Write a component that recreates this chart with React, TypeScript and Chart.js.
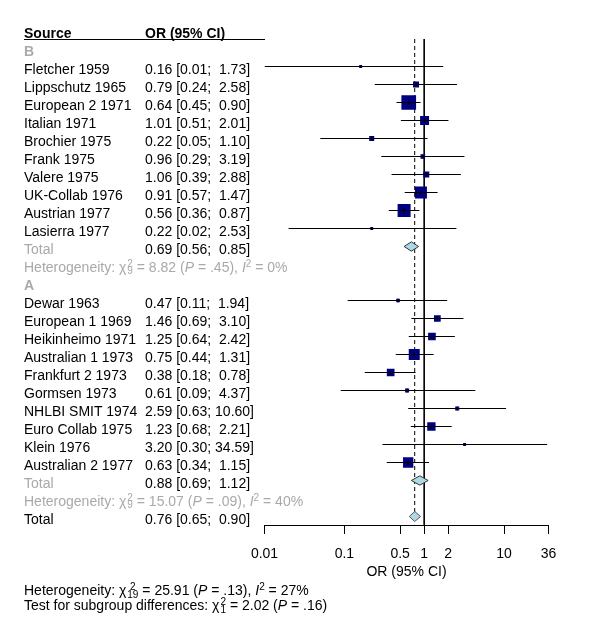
import { useEffect, useRef } from "react";
import { Chart, registerables } from "chart.js";

Chart.register(...registerables);

// subgroup B
const studiesB = [
  "Fletcher 1959",
  "Lippschutz 1965",
  "European 2 1971",
  "Italian 1971",
  "Brochier 1975",
  "Frank 1975",
  "Valere 1975",
  "UK-Collab 1976",
  "Austrian 1977",
  "Lasierra 1977"
];
const orB = [0.16, 0.79, 0.64, 1.01, 0.22, 0.96, 1.06, 0.91, 0.56, 0.22];
const loB = [0.01, 0.24, 0.45, 0.51, 0.05, 0.29, 0.39, 0.57, 0.36, 0.02];
const hiB = [1.73, 2.58, 0.9, 2.01, 1.1, 3.19, 2.88, 1.47, 0.87, 2.53];
const weightB = [0.7, 2.9, 17.1, 6.4, 2.0, 1.7, 2.9, 11.4, 13.4, 0.7];

// subgroup A
const studiesA = [
  "Dewar 1963",
  "European 1 1969",
  "Heikinheimo 1971",
  "Australian 1 1973",
  "Frankfurt 2 1973",
  "Gormsen 1973",
  "NHLBI SMIT 1974",
  "Euro Collab 1975",
  "Klein 1976",
  "Australian 2 1977"
];
const orA = [0.47, 1.46, 1.25, 0.75, 0.38, 0.61, 2.59, 1.23, 3.2, 0.63];
const loA = [0.11, 0.69, 0.64, 0.44, 0.18, 0.09, 0.63, 0.68, 0.3, 0.34];
const hiA = [1.94, 3.1, 2.42, 1.31, 0.78, 4.37, 10.6, 2.21, 34.59, 1.15];
const weightA = [1.1, 3.6, 4.7, 9.6, 4.7, 1.3, 1.3, 5.5, 0.7, 8.4];

// pooled estimates [or, lo, hi]
const totalB = [0.69, 0.56, 0.85];
const totalA = [0.88, 0.69, 1.12];
const totalAll = [0.76, 0.65, 0.9];

// heterogeneity: B, A, overall
const hetDf = ["9", "9", "19"];
const hetQ = ["8.82", "15.07", "25.91"];
const hetP = [".45", ".09", ".13"];
const hetI2 = ["0%", "40%", "27%"];
const subgroupTest = ["1", "2.02", ".16"];

const tickValues = [0.01, 0.1, 0.5, 1, 2, 10, 36];

const FONT = '"Liberation Sans", Arial, Helvetica, sans-serif';
const GREY = "#a9a9a9";
const NAVY = "#000080";
const ROW0 = 66.5;
const STEP = 18;
const PLOT_TOP = 39;
const PLOT_BOTTOM = 525;
const W = 598;
const H = 630;
const X_AXIS_H = 58;

const yMin = (PLOT_TOP - ROW0) / STEP;
const yMax = (PLOT_BOTTOM - ROW0) / STEP;

// table rows
const rowsB = studiesB.map((_, i) => i);
const rowTotalB = studiesB.length;
const rowHetB = rowTotalB + 1;
const rowLabelA = rowHetB + 1;
const rowsA = studiesA.map((_, i) => rowLabelA + 1 + i);
const rowTotalA = rowsA[rowsA.length - 1] + 1;
const rowHetA = rowTotalA + 1;
const rowTotal = rowHetA + 1;

const fmt = (v: number) => v.toFixed(2);
const ciText = (or: number, lo: number, hi: number) =>
  `${fmt(or)} [${fmt(lo)}; ${fmt(hi).padStart(5, " ")}]`;

const boxSide = (w: number) => 3.55 * Math.sqrt(w);

const textTop = (row: number) => ROW0 + STEP * row + 2 - 9;

function Chi({ df }: { df: string }) {
  return (
    <>
      χ
      <span
        style={{
          display: "inline-flex",
          flexDirection: "column",
          alignItems: "center",
          fontSize: 10,
          lineHeight: "7.5px",
          verticalAlign: "5px",
          marginLeft: 1
        }}
      >
        <span>2</span>
        <span>{df}</span>
      </span>
    </>
  );
}

function Sq() {
  return (
    <span style={{ fontSize: 10, verticalAlign: "5px", lineHeight: 0 }}>2</span>
  );
}

function Het({ k }: { k: number }) {
  return (
    <>
      Heterogeneity: <Chi df={hetDf[k]} /> = {hetQ[k]} (<i>P</i> = {hetP[k]}),{" "}
      <i>I</i>
      <Sq /> = {hetI2[k]}
    </>
  );
}

function Cell({
  row,
  x,
  color = "#000",
  bold = false,
  children
}: {
  row: number;
  x: number;
  color?: string;
  bold?: boolean;
  children: any;
}) {
  return (
    <div
      style={{
        position: "absolute",
        left: x,
        top: textTop(row),
        height: 18,
        lineHeight: "18px",
        whiteSpace: "pre",
        color,
        fontWeight: bold ? "bold" : "normal"
      }}
    >
      {children}
    </div>
  );
}

function ForestChart() {
  const chartRef = useRef<HTMLCanvasElement | null>(null);

  useEffect(() => {
    if (!chartRef.current) return;

    const allRows = [...rowsB, ...rowsA];
    const allOr = [...orB, ...orA];
    const allLo = [...loB, ...loA];
    const allHi = [...hiB, ...hiA];
    const allW = [...weightB, ...weightA];

    const ciSets = allRows.map((r, i) => ({
      data: [
        { x: allLo[i], y: r },
        { x: allHi[i], y: r }
      ],
      showLine: true,
      borderColor: "#000",
      borderWidth: 1,
      pointRadius: 0,
      order: 0
    }));

    const diamond = (t: number[], r: number, h: number, border: string) => ({
      data: [
        { x: t[1], y: r },
        { x: t[0], y: r - h },
        { x: t[2], y: r },
        { x: t[0], y: r + h },
        { x: t[1], y: r }
      ],
      showLine: true,
      fill: "shape",
      backgroundColor: "#add8e6",
      borderColor: border,
      borderWidth: 1,
      pointRadius: 0,
      tension: 0,
      order: 1
    });

    const chart = new Chart(chartRef.current, {
      type: "scatter",
      data: {
        datasets: [
          ...ciSets,
          {
            data: allRows.map((r, i) => ({ x: allOr[i], y: r })),
            pointStyle: "rect",
            pointRadius: (ctx: any) => boxSide(allW[ctx.dataIndex]) / Math.SQRT2,
            pointBackgroundColor: NAVY,
            backgroundColor: NAVY,
            pointBorderWidth: 0,
            order: 2
          },
          {
            data: allRows.map((r, i) => ({ x: allOr[i], y: r })),
            pointStyle: "line",
            rotation: 90,
            pointRadius: (ctx: any) =>
              Math.min(2.5, boxSide(allW[ctx.dataIndex]) / 2),
            pointBorderColor: "#000",
            pointBorderWidth: 1,
            order: 0
          },
          diamond(totalB, rowTotalB, 0.26, "#333"),
          diamond(totalA, rowTotalA, 0.26, "#333"),
          diamond(totalAll, rowTotal, 0.28, "#555"),
          {
            data: [
              { x: 1, y: yMin },
              { x: 1, y: yMax }
            ],
            showLine: true,
            borderColor: "#000",
            borderWidth: 1,
            pointRadius: 0,
            order: 3
          },
          {
            data: [
              { x: totalAll[0], y: yMin },
              { x: totalAll[0], y: rowTotal }
            ],
            showLine: true,
            borderColor: "#000",
            borderWidth: 1,
            borderDash: [4, 3],
            pointRadius: 0,
            order: 3
          }
        ] as any
      },
      options: {
        responsive: false,
        animation: false,
        events: [],
        layout: {
          padding: {
            left: 264.5,
            right: 49.5,
            top: PLOT_TOP,
            bottom: H - PLOT_BOTTOM - X_AXIS_H
          }
        },
        plugins: {
          legend: { display: false },
          tooltip: { enabled: false }
        },
        scales: {
          x: {
            type: "logarithmic",
            min: 0.01,
            max: 36,
            border: { display: true, color: "#000", width: 1 },
            grid: {
              display: true,
              drawOnChartArea: false,
              drawTicks: true,
              tickLength: 9,
              color: "#000"
            },
            ticks: {
              color: "#000",
              font: { family: FONT, size: 14 },
              padding: 12,
              autoSkip: false,
              maxRotation: 0,
              callback: (v: any) => String(v)
            },
            afterBuildTicks: (s: any) => {
              s.ticks = tickValues.map((v) => ({ value: v }));
            },
            afterFit: (s: any) => {
              s.height = X_AXIS_H;
            },
            title: {
              display: true,
              text: "OR (95% CI)",
              color: "#000",
              font: { family: FONT, size: 14 },
              padding: { top: 0, bottom: 2 }
            }
          },
          y: {
            type: "linear",
            display: false,
            reverse: true,
            min: yMin,
            max: yMax
          }
        }
      } as any
    });

    return () => chart.destroy();
  }, []);

  return (
    <canvas
      ref={chartRef}
      width={W}
      height={H}
      style={{ position: "absolute", left: 0, top: 0, width: W, height: H }}
    />
  );
}

export default function App() {
  return (
    <div
      style={{
        position: "absolute",
        left: 0,
        top: 0,
        width: W,
        height: H,
        background: "#fff",
        fontFamily: FONT,
        fontSize: 14,
        color: "#000",
        overflow: "hidden"
      }}
    >
      <ForestChart />
      <Cell row={-2} x={24} bold>
        Source
      </Cell>
      <Cell row={-2} x={145} bold>
        OR (95% CI)
      </Cell>
      <div
        style={{
          position: "absolute",
          left: 24,
          top: 39,
          width: 241,
          height: 1,
          background: "#000"
        }}
      />
      <Cell row={-1} x={24} color={GREY} bold>
        B
      </Cell>
      {studiesB.map((s, i) => (
        <Cell key={s} row={rowsB[i]} x={24}>
          {s}
        </Cell>
      ))}
      {studiesB.map((s, i) => (
        <Cell key={s + "ci"} row={rowsB[i]} x={145}>
          {ciText(orB[i], loB[i], hiB[i])}
        </Cell>
      ))}
      <Cell row={rowTotalB} x={24} color={GREY}>
        Total
      </Cell>
      <Cell row={rowTotalB} x={145}>
        {ciText(totalB[0], totalB[1], totalB[2])}
      </Cell>
      <Cell row={rowHetB} x={24} color={GREY}>
        <Het k={0} />
      </Cell>
      <Cell row={rowLabelA} x={24} color={GREY} bold>
        A
      </Cell>
      {studiesA.map((s, i) => (
        <Cell key={s} row={rowsA[i]} x={24}>
          {s}
        </Cell>
      ))}
      {studiesA.map((s, i) => (
        <Cell key={s + "ci"} row={rowsA[i]} x={145}>
          {ciText(orA[i], loA[i], hiA[i])}
        </Cell>
      ))}
      <Cell row={rowTotalA} x={24} color={GREY}>
        Total
      </Cell>
      <Cell row={rowTotalA} x={145}>
        {ciText(totalA[0], totalA[1], totalA[2])}
      </Cell>
      <Cell row={rowHetA} x={24} color={GREY}>
        <Het k={1} />
      </Cell>
      <Cell row={rowTotal} x={24}>
        Total
      </Cell>
      <Cell row={rowTotal} x={145}>
        {ciText(totalAll[0], totalAll[1], totalAll[2])}
      </Cell>
      <div
        style={{
          position: "absolute",
          left: 24,
          top: 583,
          lineHeight: "13px",
          whiteSpace: "pre",
          fontSize: 14
        }}
      >
        <div>
          <Het k={2} />
        </div>
        <div>
          Test for subgroup differences: <Chi df={subgroupTest[0]} /> ={" "}
          {subgroupTest[1]} (<i>P</i> = {subgroupTest[2]})
        </div>
      </div>
    </div>
  );
}
